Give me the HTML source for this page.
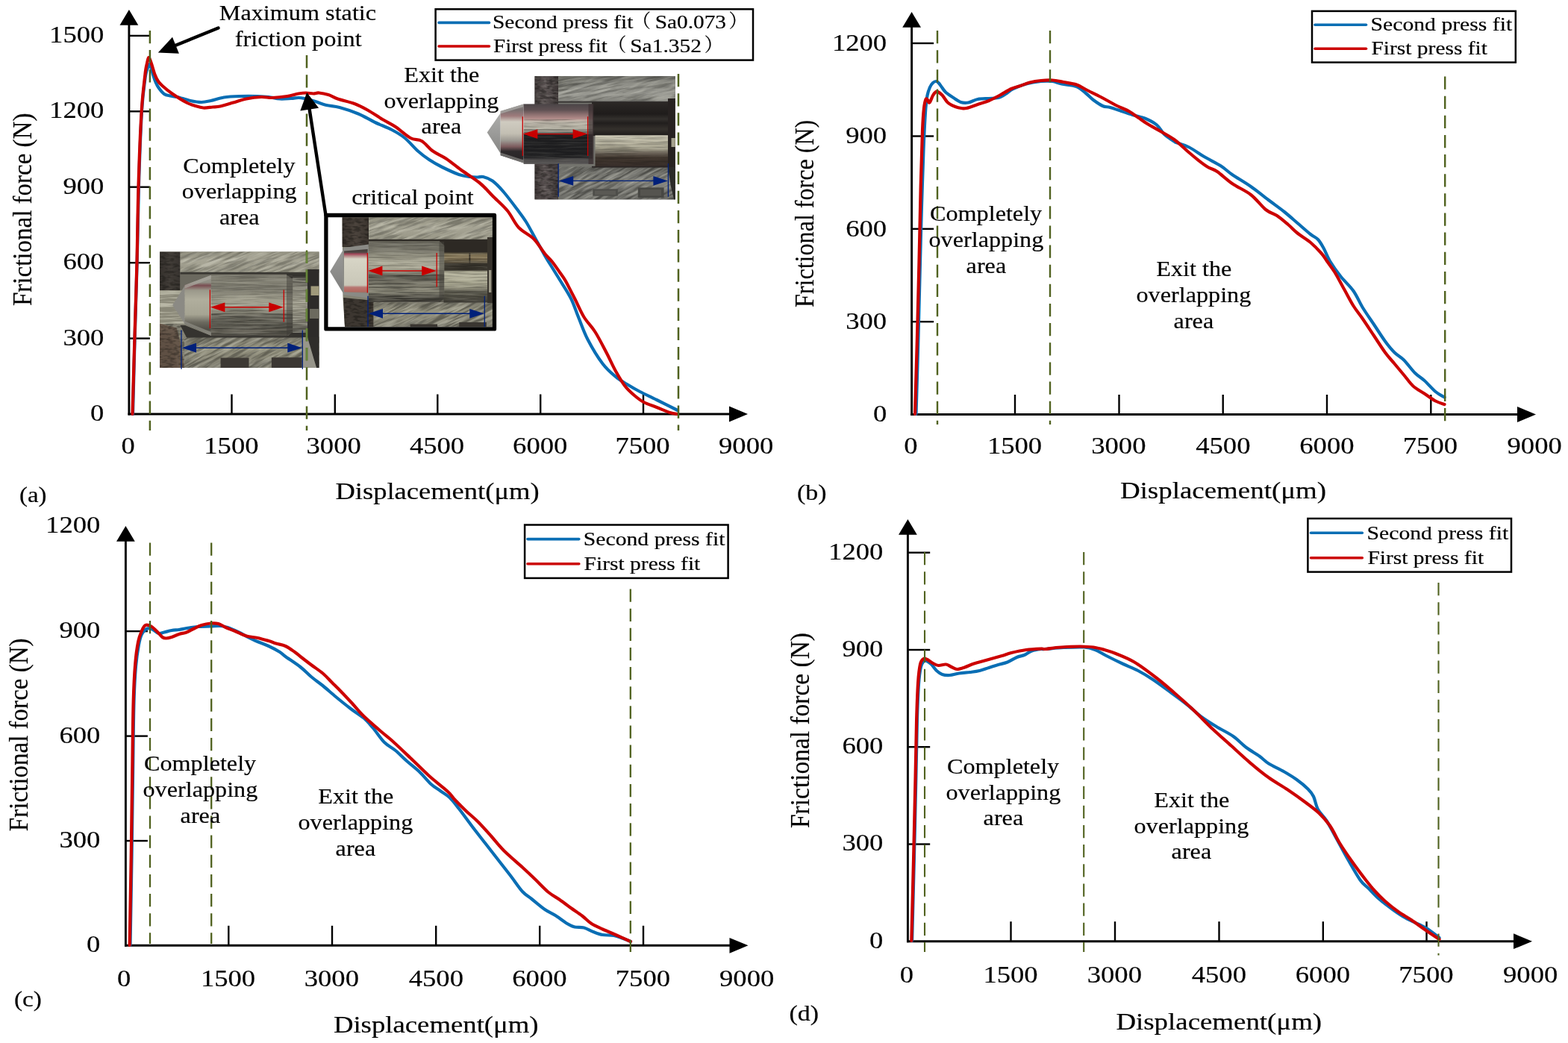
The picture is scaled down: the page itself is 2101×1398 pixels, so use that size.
<!DOCTYPE html>
<html lang="en"><head><meta charset="utf-8"><title>Frictional force vs displacement</title>
<style>html,body{margin:0;padding:0;background:#fff;}body{width:2101px;height:1398px;overflow:hidden;}svg{display:block;}text{font-family:'Liberation Serif', 'Noto Serif CJK SC', serif;fill:#000;stroke:#000;stroke-width:0.18px;font-kerning:none;white-space:pre;}</style></head><body>
<svg width="2101" height="1398" viewBox="0 0 2101 1398">
<defs><filter id="sL" x="0" y="0" width="1" height="1" color-interpolation-filters="sRGB"><feTurbulence type="fractalNoise" baseFrequency="0.02 0.45" numOctaves="3" seed="7" result="n"/><feColorMatrix in="n" type="matrix" values="0 0 0 0 1  0 0 0 0 1  0 0 0 0 0.92  4 0 0 0 -1.75" result="c"/><feComposite in="c" in2="SourceGraphic" operator="in"/></filter><filter id="sD" x="0" y="0" width="1" height="1" color-interpolation-filters="sRGB"><feTurbulence type="fractalNoise" baseFrequency="0.02 0.45" numOctaves="3" seed="11" result="n"/><feColorMatrix in="n" type="matrix" values="0 0 0 0 0.05  0 0 0 0 0.05  0 0 0 0 0.04  0 4 0 0 -1.75" result="c"/><feComposite in="c" in2="SourceGraphic" operator="in"/></filter><filter id="gL" x="0" y="0" width="1" height="1" color-interpolation-filters="sRGB"><feTurbulence type="fractalNoise" baseFrequency="0.12 0.3" numOctaves="2" seed="5" result="n"/><feColorMatrix in="n" type="matrix" values="0 0 0 0 1  0 0 0 0 1  0 0 0 0 0.94  4.5 0 0 0 -2" result="c"/><feComposite in="c" in2="SourceGraphic" operator="in"/></filter><filter id="gD" x="0" y="0" width="1" height="1" color-interpolation-filters="sRGB"><feTurbulence type="fractalNoise" baseFrequency="0.12 0.3" numOctaves="2" seed="9" result="n"/><feColorMatrix in="n" type="matrix" values="0 0 0 0 0.04  0 0 0 0 0.04  0 0 0 0 0.03  0 4.5 0 0 -2" result="c"/><feComposite in="c" in2="SourceGraphic" operator="in"/></filter><filter id="dL" x="0" y="0" width="1" height="1" color-interpolation-filters="sRGB"><feTurbulence type="fractalNoise" baseFrequency="0.03 0.3" numOctaves="3" seed="21" result="n"/><feColorMatrix in="n" type="matrix" values="0 0 0 0 1  0 0 0 0 1  0 0 0 0 0.94  4.2 0 0 0 -1.85" result="c"/><feComposite in="c" in2="SourceGraphic" operator="in"/></filter><filter id="dD" x="0" y="0" width="1" height="1" color-interpolation-filters="sRGB"><feTurbulence type="fractalNoise" baseFrequency="0.03 0.3" numOctaves="3" seed="23" result="n"/><feColorMatrix in="n" type="matrix" values="0 0 0 0 0.05  0 0 0 0 0.05  0 0 0 0 0.04  0 4.2 0 0 -1.85" result="c"/><feComposite in="c" in2="SourceGraphic" operator="in"/></filter><linearGradient id="p1strip" x1="0" y1="0" x2="1" y2="0"><stop offset="0" stop-color="#3b3434"/><stop offset="0.45" stop-color="#5a5252"/><stop offset="0.7" stop-color="#4a4343"/><stop offset="1" stop-color="#3a3333"/></linearGradient><linearGradient id="p1top" x1="0" y1="0" x2="0" y2="1"><stop offset="0" stop-color="#6f6f69"/><stop offset="0.3" stop-color="#8f8f88"/><stop offset="0.75" stop-color="#9a9a93"/><stop offset="1" stop-color="#7c7c76"/></linearGradient><linearGradient id="p1cav" x1="0" y1="0" x2="0" y2="1"><stop offset="0" stop-color="#2c2826"/><stop offset="0.35" stop-color="#1f1c1b"/><stop offset="0.5" stop-color="#33302d"/><stop offset="0.62" stop-color="#211e1d"/><stop offset="0.8" stop-color="#34302c"/><stop offset="1" stop-color="#1d1a19"/></linearGradient><linearGradient id="p1rod" x1="0" y1="0" x2="0" y2="1"><stop offset="0" stop-color="#d2cebb"/><stop offset="0.08" stop-color="#c6c2ae"/><stop offset="0.3" stop-color="#b3af9b"/><stop offset="0.42" stop-color="#9d9986"/><stop offset="0.55" stop-color="#6d655a"/><stop offset="0.7" stop-color="#41372f"/><stop offset="1" stop-color="#382e2a"/></linearGradient><linearGradient id="p1bot" x1="0" y1="0" x2="0" y2="1"><stop offset="0" stop-color="#6a6a65"/><stop offset="0.5" stop-color="#85857f"/><stop offset="1" stop-color="#6c6c67"/></linearGradient><linearGradient id="p1tap" x1="0" y1="0" x2="0" y2="1"><stop offset="0" stop-color="#8c8686"/><stop offset="0.1" stop-color="#787070"/><stop offset="0.2" stop-color="#9d7a7b"/><stop offset="0.3" stop-color="#cfcbc0"/><stop offset="0.5" stop-color="#c3bfb3"/><stop offset="0.62" stop-color="#9c9891"/><stop offset="0.72" stop-color="#7d5c5e"/><stop offset="0.8" stop-color="#2e2a2c"/><stop offset="0.92" stop-color="#2a2628"/><stop offset="1" stop-color="#6c6a68"/></linearGradient><linearGradient id="p1cyl" x1="0" y1="0" x2="0" y2="1"><stop offset="0" stop-color="#4b4547"/><stop offset="0.1" stop-color="#5f5153"/><stop offset="0.17" stop-color="#8a6e6e"/><stop offset="0.24" stop-color="#b08a88"/><stop offset="0.3" stop-color="#b9b3a7"/><stop offset="0.42" stop-color="#b1aea1"/><stop offset="0.47" stop-color="#7b7971"/><stop offset="0.52" stop-color="#1c1c1e"/><stop offset="0.88" stop-color="#1e1e20"/><stop offset="0.93" stop-color="#4a4848"/><stop offset="1" stop-color="#575555"/></linearGradient><linearGradient id="p1cone" x1="0" y1="0" x2="0" y2="1"><stop offset="0" stop-color="#adadab"/><stop offset="0.5" stop-color="#9b9b99"/><stop offset="1" stop-color="#858583"/></linearGradient><linearGradient id="p2strip" x1="0" y1="0" x2="1" y2="0"><stop offset="0" stop-color="#332f2b"/><stop offset="0.5" stop-color="#423d38"/><stop offset="1" stop-color="#37332f"/></linearGradient><linearGradient id="p2top" x1="0" y1="0" x2="0" y2="1"><stop offset="0" stop-color="#939181"/><stop offset="0.4" stop-color="#a8a696"/><stop offset="1" stop-color="#979585"/></linearGradient><linearGradient id="p2bot" x1="0" y1="0" x2="0" y2="1"><stop offset="0" stop-color="#7b796c"/><stop offset="0.4" stop-color="#95937f"/><stop offset="1" stop-color="#7f7d70"/></linearGradient><linearGradient id="p2cyl" x1="0" y1="0" x2="0" y2="1"><stop offset="0" stop-color="#77756a"/><stop offset="0.12" stop-color="#848275"/><stop offset="0.2" stop-color="#737166"/><stop offset="0.3" stop-color="#8b897b"/><stop offset="0.42" stop-color="#a19f8e"/><stop offset="0.52" stop-color="#a5a392"/><stop offset="0.6" stop-color="#8a887a"/><stop offset="0.7" stop-color="#66645a"/><stop offset="0.85" stop-color="#5b5950"/><stop offset="0.93" stop-color="#666359"/><stop offset="1" stop-color="#4a4841"/></linearGradient><linearGradient id="p2tap" x1="0" y1="0" x2="0" y2="1"><stop offset="0" stop-color="#9d9b91"/><stop offset="0.12" stop-color="#8f8d83"/><stop offset="0.17" stop-color="#7a4e52"/><stop offset="0.25" stop-color="#9a988a"/><stop offset="0.4" stop-color="#b0ae9d"/><stop offset="0.65" stop-color="#a6a493"/><stop offset="0.78" stop-color="#6b695f"/><stop offset="0.9" stop-color="#504e46"/><stop offset="1" stop-color="#8a887e"/></linearGradient><linearGradient id="p2neck" x1="0" y1="0" x2="0" y2="1"><stop offset="0" stop-color="#4a4842"/><stop offset="0.2" stop-color="#77756a"/><stop offset="0.5" stop-color="#8f8d7e"/><stop offset="0.8" stop-color="#716f64"/><stop offset="1" stop-color="#45433d"/></linearGradient><linearGradient id="p3strip" x1="0" y1="0" x2="1" y2="0"><stop offset="0" stop-color="#39322c"/><stop offset="0.5" stop-color="#4c443d"/><stop offset="1" stop-color="#3c352f"/></linearGradient><linearGradient id="p3cyl" x1="0" y1="0" x2="0" y2="1"><stop offset="0" stop-color="#66645a"/><stop offset="0.15" stop-color="#7a786c"/><stop offset="0.25" stop-color="#939181"/><stop offset="0.33" stop-color="#adab99"/><stop offset="0.45" stop-color="#a6a492"/><stop offset="0.52" stop-color="#838173"/><stop offset="0.57" stop-color="#59574e"/><stop offset="0.65" stop-color="#727064"/><stop offset="0.75" stop-color="#807e70"/><stop offset="0.83" stop-color="#8e8c7c"/><stop offset="0.9" stop-color="#5a584f"/><stop offset="1" stop-color="#3f3d37"/></linearGradient><linearGradient id="p3tap" x1="0" y1="0" x2="0" y2="1"><stop offset="0" stop-color="#3f3a37"/><stop offset="0.07" stop-color="#4e4643"/><stop offset="0.11" stop-color="#a3485a"/><stop offset="0.16" stop-color="#b78f8c"/><stop offset="0.22" stop-color="#d7d5c6"/><stop offset="0.5" stop-color="#d0cebf"/><stop offset="0.82" stop-color="#c9c7b8"/><stop offset="0.87" stop-color="#b77772"/><stop offset="0.96" stop-color="#b3685f"/><stop offset="1" stop-color="#8c7a70"/></linearGradient><linearGradient id="p3rodU" x1="0" y1="0" x2="0" y2="1"><stop offset="0" stop-color="#4f4837"/><stop offset="0.25" stop-color="#8c7c5b"/><stop offset="0.6" stop-color="#7a6c50"/><stop offset="1" stop-color="#4a4336"/></linearGradient><linearGradient id="p3rodL" x1="0" y1="0" x2="0" y2="1"><stop offset="0" stop-color="#8f8d78"/><stop offset="0.12" stop-color="#b9b7a1"/><stop offset="0.5" stop-color="#a9a791"/><stop offset="0.8" stop-color="#9a9884"/><stop offset="1" stop-color="#6b695c"/></linearGradient><linearGradient id="p3rodD" x1="0" y1="0" x2="0" y2="1"><stop offset="0" stop-color="#5d5b4f"/><stop offset="0.5" stop-color="#4c4a40"/><stop offset="1" stop-color="#3b3933"/></linearGradient><linearGradient id="cone3" x1="0" y1="0" x2="0" y2="1"><stop offset="0" stop-color="#9a9a98"/><stop offset="0.5" stop-color="#8d8d8b"/><stop offset="1" stop-color="#7d7d7b"/></linearGradient></defs>
<rect width="2101" height="1398" fill="#fff"/>
<g id="chart-a">
<line x1="172.9" y1="556.5" x2="172.9" y2="28.0" stroke="#000" stroke-width="2.9"/>
<polygon points="172.9,13.0 160.5,33.8 185.3,33.8"/>
<line x1="171.5" y1="555.0" x2="987.0" y2="555.0" stroke="#000" stroke-width="2.9"/>
<polygon points="1002.0,555.0 977.0,544.6 977.0,565.4"/>
<line x1="172.9" y1="47.9" x2="200.9" y2="47.9" stroke="#000" stroke-width="2.4"/>
<line x1="172.9" y1="149.3" x2="200.9" y2="149.3" stroke="#000" stroke-width="2.4"/>
<line x1="172.9" y1="250.7" x2="200.9" y2="250.7" stroke="#000" stroke-width="2.4"/>
<line x1="172.9" y1="352.2" x2="200.9" y2="352.2" stroke="#000" stroke-width="2.4"/>
<line x1="172.9" y1="453.6" x2="200.9" y2="453.6" stroke="#000" stroke-width="2.4"/>
<line x1="310.5" y1="555.0" x2="310.5" y2="528.5" stroke="#000" stroke-width="2.4"/>
<line x1="448.8" y1="555.0" x2="448.8" y2="528.5" stroke="#000" stroke-width="2.4"/>
<line x1="586.3" y1="555.0" x2="586.3" y2="528.5" stroke="#000" stroke-width="2.4"/>
<line x1="724.2" y1="555.0" x2="724.2" y2="528.5" stroke="#000" stroke-width="2.4"/>
<line x1="862.0" y1="555.0" x2="862.0" y2="528.5" stroke="#000" stroke-width="2.4"/>
<text x="66.1" y="56.8" font-size="32.60" textLength="73.3" lengthAdjust="spacingAndGlyphs">1500</text>
<text x="66.1" y="158.2" font-size="32.60" textLength="73.3" lengthAdjust="spacingAndGlyphs">1200</text>
<text x="84.4" y="259.6" font-size="32.60" textLength="55.0" lengthAdjust="spacingAndGlyphs">900</text>
<text x="84.4" y="361.1" font-size="32.60" textLength="55.0" lengthAdjust="spacingAndGlyphs">600</text>
<text x="84.4" y="462.5" font-size="32.60" textLength="55.0" lengthAdjust="spacingAndGlyphs">300</text>
<text x="121.1" y="563.9" font-size="32.60" textLength="18.3" lengthAdjust="spacingAndGlyphs">0</text>
<text x="162.4" y="608.0" font-size="32.60" textLength="18.3" lengthAdjust="spacingAndGlyphs">0</text>
<text x="273.3" y="608.0" font-size="32.60" textLength="73.3" lengthAdjust="spacingAndGlyphs">1500</text>
<text x="410.5" y="608.0" font-size="32.60" textLength="73.3" lengthAdjust="spacingAndGlyphs">3000</text>
<text x="548.9" y="608.0" font-size="32.60" textLength="73.3" lengthAdjust="spacingAndGlyphs">4500</text>
<text x="687.1" y="608.0" font-size="32.60" textLength="73.3" lengthAdjust="spacingAndGlyphs">6000</text>
<text x="824.4" y="608.0" font-size="32.60" textLength="73.3" lengthAdjust="spacingAndGlyphs">7500</text>
<text x="963.0" y="608.0" font-size="32.60" textLength="73.3" lengthAdjust="spacingAndGlyphs">9000</text>
<text transform="translate(42.3 281.0) rotate(-90)" x="-129.0" y="0" font-size="35.50" textLength="258.4" lengthAdjust="spacingAndGlyphs">Frictional force (N)</text>
<text x="449.4" y="668.7" font-size="31.60" textLength="273.2" lengthAdjust="spacingAndGlyphs">Displacement(μm)</text>
<text x="26.0" y="673.0" font-size="30.00" textLength="36.5" lengthAdjust="spacingAndGlyphs">(a)</text>
<path d="M178.0 555.0C178.4 537.5 179.8 484.2 180.7 450.0C181.6 415.8 182.8 383.3 183.7 350.0C184.6 316.7 184.9 283.3 185.9 250.0C186.9 216.7 188.5 174.2 189.9 150.0C191.3 125.8 193.2 114.7 194.5 105.0C195.8 95.3 196.5 95.2 197.5 92.0C198.5 88.8 199.5 86.2 200.3 86.0C201.1 85.8 201.7 88.7 202.5 91.0C203.3 93.3 204.0 96.8 205.0 100.0C206.0 103.2 207.2 107.1 208.5 110.0C209.8 112.9 210.6 114.8 212.5 117.5C214.4 120.2 217.4 124.2 220.0 126.0C222.6 127.8 225.1 127.8 228.0 128.5C230.9 129.2 233.0 128.9 237.5 130.0C242.0 131.1 249.6 133.8 255.0 135.0C260.4 136.2 265.4 137.0 270.0 137.0C274.6 137.0 277.5 136.1 282.5 135.0C287.5 133.9 293.8 131.5 300.0 130.5C306.2 129.5 312.5 129.2 320.0 129.0C327.5 128.8 338.3 128.8 345.0 129.0C351.7 129.2 355.0 129.4 360.0 130.0C365.0 130.6 370.0 132.2 375.0 132.5C380.0 132.8 385.8 132.2 390.0 132.0C394.2 131.8 397.0 131.0 400.0 131.0C403.0 131.0 405.5 131.5 408.0 132.0C410.5 132.5 412.6 133.3 415.0 134.0C417.4 134.7 418.8 134.8 422.5 136.0C426.2 137.2 432.1 139.7 437.5 141.0C442.9 142.3 447.9 142.1 455.0 144.0C462.1 145.9 472.1 149.2 480.0 152.5C487.9 155.8 495.0 160.4 502.5 164.0C510.0 167.6 518.3 170.5 525.0 174.0C531.7 177.5 536.7 180.2 542.5 185.0C548.3 189.8 554.6 197.7 560.0 202.5C565.4 207.3 569.6 210.4 575.0 214.0C580.4 217.6 585.8 220.7 592.5 224.0C599.2 227.3 608.8 231.8 615.0 234.0C621.2 236.2 625.8 236.4 630.0 237.0C634.2 237.6 637.1 237.5 640.0 237.5C642.9 237.5 644.2 236.2 647.5 237.0C650.8 237.8 655.4 239.1 660.0 242.5C664.6 245.9 669.6 251.2 675.0 257.5C680.4 263.8 687.5 273.3 692.5 280.0C697.5 286.7 700.8 290.8 705.0 297.5C709.2 304.2 713.3 312.5 717.5 320.0C721.7 327.5 726.8 336.8 730.0 342.5C733.2 348.2 733.7 348.6 737.0 354.0C740.3 359.4 745.3 367.3 750.0 375.0C754.7 382.7 760.8 391.7 765.0 400.0C769.2 408.3 771.2 415.8 775.0 425.0C778.8 434.2 782.1 444.6 787.5 455.0C792.9 465.4 801.2 479.2 807.5 487.5C813.8 495.8 819.6 500.4 825.0 505.0C830.4 509.6 834.6 511.7 840.0 515.0C845.4 518.3 850.8 521.5 857.5 525.0C864.2 528.5 871.6 531.8 880.0 536.0C888.4 540.2 903.3 547.7 908.0 550.0" fill="none" stroke="#0a6eb4" stroke-width="4.20" stroke-linecap="round" stroke-linejoin="round"/>
<path d="M177.5 555.0C178.0 537.5 179.5 484.2 180.5 450.0C181.5 415.8 182.7 383.3 183.5 350.0C184.3 316.7 184.5 283.3 185.5 250.0C186.5 216.7 188.1 175.0 189.6 150.0C191.1 125.0 193.2 110.8 194.4 100.0C195.6 89.2 196.2 88.8 197.0 85.0C197.8 81.2 198.3 77.2 199.2 77.0C200.1 76.8 201.1 80.2 202.5 84.0C203.9 87.8 205.9 95.8 207.5 100.0C209.1 104.2 210.3 106.5 212.0 109.0C213.7 111.5 214.5 112.3 217.5 115.0C220.5 117.7 224.6 121.2 230.0 125.0C235.4 128.8 244.7 134.7 250.0 137.5C255.3 140.3 258.2 140.8 262.0 142.0C265.8 143.2 268.7 144.2 272.5 144.5C276.3 144.8 281.2 143.8 285.0 143.5C288.8 143.2 290.4 143.5 295.0 142.5C299.6 141.5 306.7 139.2 312.5 137.5C318.3 135.8 323.8 133.8 330.0 132.5C336.2 131.2 344.2 130.2 350.0 130.0C355.8 129.8 359.2 131.2 365.0 131.0C370.8 130.8 379.2 129.9 385.0 129.0C390.8 128.1 395.8 126.2 400.0 125.5C404.2 124.8 406.7 124.5 410.0 124.5C413.3 124.5 417.1 125.5 420.0 125.5C422.9 125.5 424.2 124.2 427.5 124.5C430.8 124.8 435.8 125.7 440.0 127.0C444.2 128.3 446.7 130.5 452.5 132.5C458.3 134.5 468.3 136.5 475.0 139.0C481.7 141.5 486.2 144.0 492.5 147.5C498.8 151.0 506.2 156.2 512.5 160.0C518.8 163.8 523.8 165.8 530.0 170.0C536.2 174.2 544.2 181.8 550.0 185.0C555.8 188.2 560.0 186.1 565.0 189.0C570.0 191.9 574.6 198.6 580.0 202.5C585.4 206.4 591.2 208.3 597.5 212.5C603.8 216.7 610.0 222.1 617.5 227.5C625.0 232.9 635.4 239.2 642.5 245.0C649.6 250.8 653.8 256.2 660.0 262.5C666.2 268.8 674.2 275.4 680.0 282.5C685.8 289.6 689.2 298.8 695.0 305.0C700.8 311.2 709.2 314.2 715.0 320.0C720.8 325.8 725.8 334.8 730.0 340.0C734.2 345.2 736.7 346.8 740.0 351.0C743.3 355.2 747.1 360.8 750.0 365.0C752.9 369.2 754.2 370.2 757.5 376.0C760.8 381.8 765.8 391.8 770.0 400.0C774.2 408.2 777.9 417.5 782.5 425.0C787.1 432.5 792.5 437.1 797.5 445.0C802.5 452.9 807.9 463.8 812.5 472.5C817.1 481.2 820.8 490.0 825.0 497.5C829.2 505.0 833.3 512.1 837.5 517.5C841.7 522.9 845.8 526.4 850.0 530.0C854.2 533.6 857.5 536.3 862.5 539.0C867.5 541.7 874.2 543.7 880.0 546.0C885.8 548.3 892.8 551.5 897.5 553.0C902.2 554.5 906.2 554.7 908.0 555.0" fill="none" stroke="#cc0000" stroke-width="4.20" stroke-linecap="round" stroke-linejoin="round"/>
<g id="photo-overlap">
<rect x="214.1" y="337.5" width="213.4" height="155.5" fill="#858375"/>
<rect x="214.1" y="337.5" width="27.4" height="51.5" fill="url(#p2strip)"/>
<rect x="214.1" y="389.0" width="33.9" height="45.0" fill="#8a8878"/>
<polygon points="214.1,433.4 236.6,439.5 243.0,464.0 247.0,493.0 214.1,493.0" fill="#66574a"/>
<polygon points="214.1,445.0 230.0,450.0 238.0,493.0 214.1,493.0" fill="#5c4d41" opacity="0.7"/>
<rect x="241.5" y="337.5" width="186.0" height="28.0" fill="url(#p2top)"/>
<rect x="253.0" y="451.5" width="174.5" height="41.5" fill="url(#p2bot)"/>
<clipPath id="c1"><rect x="241.5" y="337.5" width="186.0" height="28.0"/></clipPath>
<g clip-path="url(#c1)"><rect x="92.7" y="188.7" width="483.6" height="325.6" fill="#000" filter="url(#dL)" opacity="0.24" transform="rotate(-20 334.5 351.5)"/></g>
<clipPath id="c2"><rect x="241.5" y="337.5" width="186.0" height="28.0"/></clipPath>
<g clip-path="url(#c2)"><rect x="92.7" y="188.7" width="483.6" height="325.6" fill="#000" filter="url(#dD)" opacity="0.26" transform="rotate(-20 334.5 351.5)"/></g>
<clipPath id="c3"><rect x="247.0" y="451.5" width="180.5" height="41.5"/></clipPath>
<g clip-path="url(#c3)"><rect x="102.6" y="307.1" width="469.3" height="330.3" fill="#000" filter="url(#dL)" opacity="0.24" transform="rotate(-28 337.2 472.2)"/></g>
<clipPath id="c4"><rect x="247.0" y="451.5" width="180.5" height="41.5"/></clipPath>
<g clip-path="url(#c4)"><rect x="102.6" y="307.1" width="469.3" height="330.3" fill="#000" filter="url(#dD)" opacity="0.34" transform="rotate(-28 337.2 472.2)"/></g>
<clipPath id="c5"><rect x="214.1" y="337.5" width="27.4" height="51.5"/></clipPath>
<g clip-path="url(#c5)"><rect x="214.1" y="337.5" width="27.4" height="51.5" fill="#000" filter="url(#gD)" opacity="0.30"/></g>
<clipPath id="c6"><rect x="214.1" y="434.0" width="32.9" height="59.0"/></clipPath>
<g clip-path="url(#c6)"><rect x="214.1" y="434.0" width="32.9" height="59.0" fill="#000" filter="url(#gD)" opacity="0.30"/></g>
<clipPath id="c7"><rect x="214.1" y="389.0" width="33.9" height="45.0"/></clipPath>
<g clip-path="url(#c7)"><rect x="214.1" y="389.0" width="33.9" height="45.0" fill="#000" filter="url(#sL)" opacity="0.40"/></g>
<rect x="295.6" y="479.6" width="37.9" height="13.4" fill="#3d3934"/>
<rect x="363.9" y="479.2" width="40.7" height="13.8" fill="#3b3733"/>
<polygon points="241.5,365.5 412.0,365.5 412.0,372.0 392.0,372.0 386.0,368.5 283.0,368.5 248.0,382.0 244.0,389.0 241.5,389.0" fill="#6b695f"/>
<rect x="241.5" y="364.8" width="170.5" height="2.8" fill="#3a3833"/>
<rect x="384.0" y="367.0" width="28.0" height="6.0" fill="#35332f"/>
<polygon points="241.5,436.0 248.0,436.0 283.0,450.0 386.0,450.0 392.0,445.0 412.0,445.0 412.0,452.5 250.0,452.5" fill="#35332f"/>
<rect x="392.0" y="371.0" width="20.0" height="75.0" fill="url(#p2neck)"/>
<clipPath id="c8"><rect x="392.0" y="371.0" width="20.0" height="75.0"/></clipPath>
<g clip-path="url(#c8)"><rect x="392.0" y="371.0" width="20.0" height="75.0" fill="#000" filter="url(#sL)" opacity="0.32"/></g>
<rect x="412.0" y="361.0" width="15.5" height="91.0" fill="#2d2b29"/>
<rect x="416.5" y="383.5" width="11.0" height="12.5" fill="#a09a7b"/>
<rect x="415.0" y="414.0" width="12.5" height="13.0" fill="#6c6a5f"/>
<polygon points="410.0,452.0 427.5,452.0 427.5,493.0 424.0,493.0" fill="#2f2d2a"/>
<polygon points="405.5,452.0 412.0,452.0 424.0,493.0 405.5,493.0" fill="#97958a"/>
<polygon points="231.2,409.1 247.6,383.0 247.6,434.0" fill="#8b8a84"/>
<polygon points="247.6,382.3 282.9,368.9 282.9,449.8 247.6,434.6" fill="url(#p2tap)"/>
<polygon points="247.6,382.3 282.9,368.9 282.9,373.5 247.6,386.5" fill="#a5a39a" opacity="0.8"/>
<polygon points="247.6,434.6 282.9,449.8 282.9,445.0 247.6,430.5" fill="#8a887f" opacity="0.8"/>
<polygon points="282.9,368.5 384.0,368.5 392.2,374.0 392.2,445.0 384.0,450.4 282.9,450.4" fill="url(#p2cyl)"/>
<clipPath id="c9"><rect x="282.9" y="368.5" width="109.3" height="46.5"/></clipPath>
<g clip-path="url(#c9)"><rect x="282.9" y="368.5" width="109.3" height="46.5" fill="#000" filter="url(#sD)" opacity="0.17"/></g>
<clipPath id="c10"><rect x="282.9" y="415.0" width="109.3" height="35.4"/></clipPath>
<g clip-path="url(#c10)"><rect x="282.9" y="415.0" width="109.3" height="35.4" fill="#000" filter="url(#sD)" opacity="0.38"/></g>
<clipPath id="c11"><rect x="282.9" y="368.5" width="109.3" height="81.9"/></clipPath>
<g clip-path="url(#c11)"><rect x="282.9" y="368.5" width="109.3" height="81.9" fill="#000" filter="url(#sL)" opacity="0.12"/></g>
<rect x="384.0" y="369.0" width="8.2" height="81.0" fill="#3c3a35" opacity="0.45"/>
<g stroke="#c80000" fill="#c80000">
<line x1="281.4" y1="388.4" x2="281.4" y2="440.1" stroke-width="1.3"/>
<line x1="380.3" y1="388.4" x2="380.3" y2="431.6" stroke-width="1.3"/>
<line x1="300.4" y1="411.8" x2="361.3" y2="411.8" stroke-width="1.4"/>
<polygon stroke="none" points="281.9,411.8 301.4,405.4 301.4,418.2"/>
<polygon stroke="none" points="379.8,411.8 360.3,405.4 360.3,418.2"/>
</g>
<g stroke="#00207a" fill="#00207a">
<line x1="243.0" y1="442.5" x2="243.0" y2="494.8" stroke-width="1.3"/>
<line x1="405.3" y1="442.5" x2="405.3" y2="494.8" stroke-width="1.3"/>
<line x1="262.0" y1="466.2" x2="386.3" y2="466.2" stroke-width="1.4"/>
<polygon stroke="none" points="243.5,466.2 263.0,459.8 263.0,472.6"/>
<polygon stroke="none" points="404.8,466.2 385.3,459.8 385.3,472.6"/>
</g>
</g>
<line x1="200.9" y1="40.9" x2="200.9" y2="577.0" stroke="#50621f" stroke-width="2.5" stroke-dasharray="17.25 8.89" stroke-dashoffset="0.0"/>
<line x1="909.0" y1="99.0" x2="909.0" y2="577.0" stroke="#50621f" stroke-width="2.5" stroke-dasharray="17.25 8.89" stroke-dashoffset="0.0"/>
<line x1="411.0" y1="74.0" x2="411.0" y2="577.0" stroke="#50621f" stroke-width="2.5" stroke-dasharray="17.25 8.89" stroke-dashoffset="0.0"/>
<clipPath id="cp2"><rect x="214.1" y="337.5" width="213.4" height="155.5"/></clipPath>
<g clip-path="url(#cp2)">
<line x1="411.0" y1="74.0" x2="411.0" y2="577.0" stroke="#66853a" stroke-width="2.5" stroke-dasharray="17.25 8.89" stroke-dashoffset="0.0"/>
</g>
<g id="photo-exit">
<rect x="716.5" y="102.1" width="188.3" height="165.2" fill="#74746e"/>
<rect x="716.5" y="102.1" width="31.5" height="165.2" fill="url(#p1strip)"/>
<rect x="748.0" y="102.1" width="156.8" height="34.9" fill="url(#p1top)"/>
<polygon points="748.0,102.1 800.0,102.1 760.0,120.0 748.0,122.0" fill="#6a6a64" opacity="0.6"/>
<rect x="748.0" y="223.5" width="156.8" height="43.8" fill="url(#p1bot)"/>
<clipPath id="c12"><rect x="748.0" y="102.1" width="156.8" height="34.9"/></clipPath>
<g clip-path="url(#c12)"><rect x="622.6" y="-23.3" width="407.7" height="285.8" fill="#000" filter="url(#dL)" opacity="0.18" transform="rotate(-12 826.4 119.5)"/></g>
<clipPath id="c13"><rect x="748.0" y="102.1" width="156.8" height="34.9"/></clipPath>
<g clip-path="url(#c13)"><rect x="622.6" y="-23.3" width="407.7" height="285.8" fill="#000" filter="url(#dD)" opacity="0.26" transform="rotate(-12 826.4 119.5)"/></g>
<clipPath id="c14"><rect x="748.0" y="223.5" width="156.8" height="43.8"/></clipPath>
<g clip-path="url(#c14)"><rect x="622.6" y="98.1" width="407.7" height="294.7" fill="#000" filter="url(#dL)" opacity="0.24" transform="rotate(-28 826.4 245.4)"/></g>
<clipPath id="c15"><rect x="748.0" y="223.5" width="156.8" height="43.8"/></clipPath>
<g clip-path="url(#c15)"><rect x="622.6" y="98.1" width="407.7" height="294.7" fill="#000" filter="url(#dD)" opacity="0.38" transform="rotate(-28 826.4 245.4)"/></g>
<clipPath id="c16"><rect x="716.5" y="102.1" width="31.5" height="165.2"/></clipPath>
<g clip-path="url(#c16)"><rect x="716.5" y="102.1" width="31.5" height="165.2" fill="#000" filter="url(#gD)" opacity="0.34"/></g>
<clipPath id="c17"><rect x="716.5" y="102.1" width="31.5" height="165.2"/></clipPath>
<g clip-path="url(#c17)"><rect x="716.5" y="102.1" width="31.5" height="165.2" fill="#000" filter="url(#gL)" opacity="0.10"/></g>
<rect x="794.3" y="253.4" width="33.5" height="9.2" fill="#4d4d49"/>
<rect x="797.0" y="255.5" width="28.0" height="5.5" fill="#5a5954"/>
<rect x="854.8" y="251.4" width="34.8" height="13.6" fill="#474743"/>
<rect x="858.0" y="254.0" width="28.0" height="8.5" fill="#55544f"/>
<rect x="748.0" y="135.8" width="156.8" height="1.8" fill="#33302f"/>
<rect x="793.0" y="137.0" width="104.0" height="45.0" fill="url(#p1cav)"/>
<rect x="797.5" y="181.3" width="97.5" height="42.7" fill="url(#p1rod)"/>
<clipPath id="c18"><rect x="797.5" y="181.3" width="97.5" height="42.7"/></clipPath>
<g clip-path="url(#c18)"><rect x="797.5" y="181.3" width="97.5" height="42.7" fill="#000" filter="url(#sD)" opacity="0.21"/></g>
<clipPath id="c19"><rect x="797.5" y="181.3" width="97.5" height="23.7"/></clipPath>
<g clip-path="url(#c19)"><rect x="797.5" y="181.3" width="97.5" height="23.7" fill="#000" filter="url(#sL)" opacity="0.12"/></g>
<rect x="895.0" y="132.0" width="9.8" height="92.5" fill="#272221"/>
<rect x="899.5" y="185.0" width="5.3" height="12.0" fill="#a5a18d"/>
<polygon points="895.0,224.0 904.8,224.0 904.8,267.3 903.0,267.3 899.0,250.0" fill="#2b2a28"/>
<rect x="793.0" y="222.8" width="104.0" height="1.8" fill="#2b2625"/>
<polygon points="652.7,177.4 670.7,151.6 670.7,205.7" fill="url(#p1cone)"/>
<polygon points="670.7,149.0 701.6,139.4 701.6,218.6 670.7,208.3" fill="url(#p1tap)"/>
<polygon points="670.7,149.0 701.6,139.4 701.6,143.0 670.7,152.5" fill="#a9a9a5" opacity="0.75"/>
<polygon points="670.7,208.3 701.6,218.6 701.6,214.5 670.7,204.5" fill="#7b7977" opacity="0.8"/>
<rect x="701.6" y="139.4" width="92.7" height="80.5" fill="url(#p1cyl)"/>
<clipPath id="c20"><rect x="701.6" y="160.0" width="92.7" height="20.0"/></clipPath>
<g clip-path="url(#c20)"><rect x="701.6" y="160.0" width="92.7" height="20.0" fill="#000" filter="url(#sD)" opacity="0.26"/></g>
<clipPath id="c21"><rect x="701.6" y="160.0" width="92.7" height="20.0"/></clipPath>
<g clip-path="url(#c21)"><rect x="701.6" y="160.0" width="92.7" height="20.0" fill="#000" filter="url(#sL)" opacity="0.16"/></g>
<clipPath id="c22"><rect x="701.6" y="182.0" width="92.7" height="37.9"/></clipPath>
<g clip-path="url(#c22)"><rect x="701.6" y="182.0" width="92.7" height="37.9" fill="#000" filter="url(#sL)" opacity="0.08"/></g>
<rect x="788.5" y="139.4" width="7.0" height="80.5" fill="#3a2f31" opacity="0.7"/>
<g stroke="#c80000" fill="#c80000">
<line x1="700.3" y1="156.2" x2="700.3" y2="209.0" stroke-width="1.3"/>
<line x1="787.6" y1="156.2" x2="787.6" y2="209.0" stroke-width="1.3"/>
<line x1="719.3" y1="179.6" x2="768.6" y2="179.6" stroke-width="1.4"/>
<polygon stroke="none" points="700.8,179.6 720.3,173.2 720.3,186.0"/>
<polygon stroke="none" points="787.1,179.6 767.6,173.2 767.6,186.0"/>
</g>
<g stroke="#00207a" fill="#00207a">
<line x1="748.2" y1="219.2" x2="748.2" y2="263.7" stroke-width="1.3"/>
<line x1="895.4" y1="219.2" x2="895.4" y2="263.7" stroke-width="1.3"/>
<line x1="767.2" y1="242.4" x2="876.4" y2="242.4" stroke-width="1.4"/>
<polygon stroke="none" points="748.7,242.4 768.2,236.0 768.2,248.8"/>
<polygon stroke="none" points="894.9,242.4 875.4,236.0 875.4,248.8"/>
</g>
</g>
<g id="photo-critical">
<rect x="436.9" y="288.5" width="225.6" height="152.4" fill="#fff"/>
<polygon points="458.6,291.2 660.0,291.2 660.0,438.1 462.0,438.1 459.5,400.0" fill="#848273"/>
<polygon points="458.6,291.2 494.0,291.2 494.0,331.0 458.6,331.0" fill="url(#p3strip)"/>
<polygon points="460.0,399.0 500.6,403.0 500.6,438.1 462.0,438.1" fill="#3d3731"/>
<rect x="494.0" y="291.2" width="166.0" height="30.8" fill="url(#p2top)"/>
<rect x="500.6" y="405.3" width="159.4" height="32.8" fill="url(#p2bot)"/>
<clipPath id="c23"><rect x="494.0" y="291.2" width="166.0" height="30.8"/></clipPath>
<g clip-path="url(#c23)"><rect x="361.2" y="158.4" width="431.6" height="296.4" fill="#000" filter="url(#dL)" opacity="0.24" transform="rotate(-18 577.0 306.6)"/></g>
<clipPath id="c24"><rect x="494.0" y="291.2" width="166.0" height="30.8"/></clipPath>
<g clip-path="url(#c24)"><rect x="361.2" y="158.4" width="431.6" height="296.4" fill="#000" filter="url(#dD)" opacity="0.26" transform="rotate(-18 577.0 306.6)"/></g>
<clipPath id="c25"><rect x="500.6" y="405.3" width="159.4" height="32.8"/></clipPath>
<g clip-path="url(#c25)"><rect x="373.1" y="277.8" width="414.4" height="287.8" fill="#000" filter="url(#dL)" opacity="0.24" transform="rotate(-25 580.3 421.7)"/></g>
<clipPath id="c26"><rect x="500.6" y="405.3" width="159.4" height="32.8"/></clipPath>
<g clip-path="url(#c26)"><rect x="373.1" y="277.8" width="414.4" height="287.8" fill="#000" filter="url(#dD)" opacity="0.34" transform="rotate(-25 580.3 421.7)"/></g>
<clipPath id="c27"><rect x="458.6" y="291.2" width="35.4" height="39.8"/></clipPath>
<g clip-path="url(#c27)"><rect x="458.6" y="291.2" width="35.4" height="39.8" fill="#000" filter="url(#gD)" opacity="0.34"/></g>
<clipPath id="c28"><polygon points="460.0,399.0 500.6,403.0 500.6,438.1 462.0,438.1"/></clipPath>
<g clip-path="url(#c28)"><rect x="461.0" y="399.0" width="39.6" height="39.1" fill="#000" filter="url(#gD)" opacity="0.34"/></g>
<rect x="549.6" y="434.5" width="36.4" height="3.6" fill="#3a3631"/>
<rect x="615.3" y="432.0" width="36.5" height="6.1" fill="#3a3631"/>
<rect x="494.0" y="320.8" width="166.0" height="2.6" fill="#2e2b26"/>
<rect x="589.0" y="322.0" width="71.0" height="17.0" fill="#2d2924"/>
<rect x="594.5" y="338.4" width="59.5" height="15.1" fill="url(#p3rodU)"/>
<rect x="628.5" y="339.0" width="1.8" height="14.0" fill="#352f25"/>
<rect x="594.5" y="353.0" width="59.5" height="10.0" fill="#39352d"/>
<rect x="594.5" y="362.7" width="59.5" height="27.3" fill="url(#p3rodL)"/>
<rect x="594.5" y="389.5" width="59.5" height="16.0" fill="url(#p3rodD)"/>
<clipPath id="c29"><rect x="594.5" y="338.4" width="59.5" height="67.1"/></clipPath>
<g clip-path="url(#c29)"><rect x="594.5" y="338.4" width="59.5" height="67.1" fill="#000" filter="url(#sL)" opacity="0.14"/></g>
<clipPath id="c30"><rect x="594.5" y="338.4" width="59.5" height="67.1"/></clipPath>
<g clip-path="url(#c30)"><rect x="594.5" y="338.4" width="59.5" height="67.1" fill="#000" filter="url(#sD)" opacity="0.21"/></g>
<rect x="653.0" y="318.0" width="7.0" height="88.0" fill="#37332c"/>
<rect x="655.0" y="362.0" width="3.3" height="30.0" fill="#bdbba6" opacity="0.75"/>
<polygon points="442.2,363.9 459.8,334.8 459.8,393.0" fill="url(#cone3)"/>
<polygon points="459.8,332.3 493.9,327.5 493.9,399.5 459.8,395.2" fill="#8a8a85"/>
<polygon points="461.0,336.5 492.6,334.0 492.6,392.8 461.0,391.5" fill="url(#p3tap)"/>
<polygon points="493.9,323.8 589.5,323.8 595.2,329.0 595.2,400.0 589.5,405.0 493.9,405.0" fill="url(#p3cyl)"/>
<clipPath id="c31"><rect x="493.9" y="323.8" width="101.3" height="44.2"/></clipPath>
<g clip-path="url(#c31)"><rect x="493.9" y="323.8" width="101.3" height="44.2" fill="#000" filter="url(#sD)" opacity="0.17"/></g>
<clipPath id="c32"><rect x="493.9" y="368.0" width="101.3" height="37.0"/></clipPath>
<g clip-path="url(#c32)"><rect x="493.9" y="368.0" width="101.3" height="37.0" fill="#000" filter="url(#sD)" opacity="0.38"/></g>
<clipPath id="c33"><rect x="493.9" y="323.8" width="101.3" height="81.2"/></clipPath>
<g clip-path="url(#c33)"><rect x="493.9" y="323.8" width="101.3" height="81.2" fill="#000" filter="url(#sL)" opacity="0.12"/></g>
<rect x="588.5" y="324.0" width="6.7" height="81.0" fill="#3d3b35" opacity="0.5"/>
<g stroke="#c80000" fill="#c80000">
<line x1="492.4" y1="339.0" x2="492.4" y2="392.5" stroke-width="1.3"/>
<line x1="585.2" y1="339.0" x2="585.2" y2="384.6" stroke-width="1.3"/>
<line x1="511.4" y1="363.0" x2="566.2" y2="363.0" stroke-width="1.4"/>
<polygon stroke="none" points="492.9,363.0 512.4,356.6 512.4,369.4"/>
<polygon stroke="none" points="584.7,363.0 565.2,356.6 565.2,369.4"/>
</g>
<g stroke="#00207a" fill="#00207a">
<line x1="493.0" y1="396.8" x2="493.0" y2="438.1" stroke-width="1.3"/>
<line x1="649.3" y1="396.8" x2="649.3" y2="438.1" stroke-width="1.3"/>
<line x1="512.0" y1="420.3" x2="630.3" y2="420.3" stroke-width="1.4"/>
<polygon stroke="none" points="493.5,420.3 513.0,413.9 513.0,426.7"/>
<polygon stroke="none" points="648.8,420.3 629.3,413.9 629.3,426.7"/>
</g>
<rect x="436.9" y="288.5" width="225.6" height="152.4" fill="none" stroke="#000" stroke-width="5.3" stroke-linejoin="round"/>
</g>
<text x="293.8" y="27.1" font-size="30.00" textLength="210.3" lengthAdjust="spacingAndGlyphs">Maximum static</text>
<text x="314.7" y="61.7" font-size="30.00" textLength="170.0" lengthAdjust="spacingAndGlyphs">friction point</text>
<text x="245.3" y="231.6" font-size="30.00" textLength="150.2" lengthAdjust="spacingAndGlyphs">Completely</text>
<text x="243.8" y="266.1" font-size="30.00" textLength="153.8" lengthAdjust="spacingAndGlyphs">overlapping</text>
<text x="293.9" y="300.8" font-size="30.00" textLength="53.6" lengthAdjust="spacingAndGlyphs">area</text>
<text x="541.3" y="109.9" font-size="30.00" textLength="101.0" lengthAdjust="spacingAndGlyphs">Exit the</text>
<text x="514.5" y="145.2" font-size="30.00" textLength="153.8" lengthAdjust="spacingAndGlyphs">overlapping</text>
<text x="564.6" y="179.4" font-size="30.00" textLength="53.6" lengthAdjust="spacingAndGlyphs">area</text>
<text x="471.2" y="274.2" font-size="30.00" textLength="163.6" lengthAdjust="spacingAndGlyphs">critical point</text>
<line x1="292.5" y1="37.5" x2="233.6" y2="61.5" stroke="#000" stroke-width="4.4" stroke-linecap="round"/>
<polygon points="211.8,70.4 231.0,49.8 239.9,71.7"/>
<line x1="436.5" y1="288.5" x2="414.4" y2="144.8" stroke="#000" stroke-width="4.4" stroke-linecap="round"/>
<polygon points="411.2,124.0 427.1,144.8 402.3,148.6"/>
<rect x="583.6" y="12.3" width="425.4" height="68.3" fill="#fff" stroke="#000" stroke-width="2.5"/>
<line x1="588.0" y1="30.4" x2="655.5" y2="30.4" stroke="#0a6eb4" stroke-width="3.6" stroke-linecap="round"/>
<line x1="588.0" y1="62.0" x2="655.5" y2="62.0" stroke="#cc0000" stroke-width="3.6" stroke-linecap="round"/>
<text x="659.9" y="38.1" font-size="25.60" textLength="188.5" lengthAdjust="spacingAndGlyphs">Second press fit</text>
<text x="847.0" y="36.9" font-size="25.0">（</text>
<text x="877.7" y="38.1" font-size="25.60" textLength="95.3" lengthAdjust="spacingAndGlyphs">Sa0.073</text>
<text x="976.5" y="36.9" font-size="25.0">）</text>
<text x="661.1" y="70.2" font-size="25.60" textLength="152.8" lengthAdjust="spacingAndGlyphs">First press fit</text>
<text x="814.2" y="69.0" font-size="25.0">（</text>
<text x="844.2" y="70.2" font-size="25.60" textLength="95.8" lengthAdjust="spacingAndGlyphs">Sa1.352</text>
<text x="943.8" y="69.0" font-size="25.0">）</text>
</g>
<g id="chart-b">
<line x1="1221.6" y1="557.0" x2="1221.6" y2="31.0" stroke="#000" stroke-width="2.9"/>
<polygon points="1221.6,16.0 1209.2,36.8 1234.0,36.8"/>
<line x1="1220.1" y1="555.5" x2="2043.0" y2="555.5" stroke="#000" stroke-width="2.9"/>
<polygon points="2058.0,555.5 2033.0,545.1 2033.0,565.9"/>
<line x1="1221.6" y1="58.0" x2="1251.1" y2="58.0" stroke="#000" stroke-width="2.4"/>
<line x1="1221.6" y1="182.5" x2="1251.1" y2="182.5" stroke="#000" stroke-width="2.4"/>
<line x1="1221.6" y1="306.8" x2="1251.1" y2="306.8" stroke="#000" stroke-width="2.4"/>
<line x1="1221.6" y1="431.2" x2="1251.1" y2="431.2" stroke="#000" stroke-width="2.4"/>
<line x1="1360.0" y1="555.5" x2="1360.0" y2="529.0" stroke="#000" stroke-width="2.4"/>
<line x1="1499.5" y1="555.5" x2="1499.5" y2="529.0" stroke="#000" stroke-width="2.4"/>
<line x1="1638.7" y1="555.5" x2="1638.7" y2="529.0" stroke="#000" stroke-width="2.4"/>
<line x1="1778.0" y1="555.5" x2="1778.0" y2="529.0" stroke="#000" stroke-width="2.4"/>
<line x1="1917.3" y1="555.5" x2="1917.3" y2="529.0" stroke="#000" stroke-width="2.4"/>
<text x="1114.9" y="67.8" font-size="32.60" textLength="73.3" lengthAdjust="spacingAndGlyphs">1200</text>
<text x="1133.2" y="192.3" font-size="32.60" textLength="55.0" lengthAdjust="spacingAndGlyphs">900</text>
<text x="1133.2" y="316.6" font-size="32.60" textLength="55.0" lengthAdjust="spacingAndGlyphs">600</text>
<text x="1133.2" y="441.0" font-size="32.60" textLength="55.0" lengthAdjust="spacingAndGlyphs">300</text>
<text x="1169.9" y="565.3" font-size="32.60" textLength="18.3" lengthAdjust="spacingAndGlyphs">0</text>
<text x="1211.3" y="608.0" font-size="32.60" textLength="18.3" lengthAdjust="spacingAndGlyphs">0</text>
<text x="1322.9" y="608.0" font-size="32.60" textLength="73.3" lengthAdjust="spacingAndGlyphs">1500</text>
<text x="1462.2" y="608.0" font-size="32.60" textLength="73.3" lengthAdjust="spacingAndGlyphs">3000</text>
<text x="1602.2" y="608.0" font-size="32.60" textLength="73.3" lengthAdjust="spacingAndGlyphs">4500</text>
<text x="1741.3" y="608.0" font-size="32.60" textLength="73.3" lengthAdjust="spacingAndGlyphs">6000</text>
<text x="1879.8" y="608.0" font-size="32.60" textLength="73.3" lengthAdjust="spacingAndGlyphs">7500</text>
<text x="2019.5" y="608.0" font-size="32.60" textLength="73.3" lengthAdjust="spacingAndGlyphs">9000</text>
<text transform="translate(1089.5 286.6) rotate(-90)" x="-125.4" y="0" font-size="35.50" textLength="251.3" lengthAdjust="spacingAndGlyphs">Frictional force (N)</text>
<text x="1500.9" y="668.3" font-size="31.60" textLength="276.2" lengthAdjust="spacingAndGlyphs">Displacement(μm)</text>
<text x="1068.0" y="669.6" font-size="30.00" textLength="39.5" lengthAdjust="spacingAndGlyphs">(b)</text>
<path d="M1227.5 555.0C1228.0 537.5 1229.6 484.2 1230.5 450.0C1231.4 415.8 1232.2 379.2 1233.0 350.0C1233.8 320.8 1234.2 300.0 1235.0 275.0C1235.8 250.0 1236.7 220.8 1237.5 200.0C1238.3 179.2 1239.2 162.0 1240.0 150.0C1240.8 138.0 1241.5 133.5 1242.5 128.0C1243.5 122.5 1244.8 119.8 1246.0 117.0C1247.2 114.2 1248.6 112.3 1250.0 111.0C1251.4 109.7 1253.2 108.9 1254.5 109.0C1255.8 109.1 1256.8 110.2 1258.0 111.5C1259.2 112.8 1260.4 114.9 1262.0 117.0C1263.6 119.1 1264.9 121.7 1267.5 124.0C1270.1 126.3 1274.2 128.8 1277.5 131.0C1280.8 133.2 1284.2 135.9 1287.5 137.0C1290.8 138.1 1293.8 138.2 1297.5 137.5C1301.2 136.8 1305.4 133.9 1310.0 133.0C1314.6 132.1 1320.4 132.3 1325.0 132.0C1329.6 131.7 1333.8 132.0 1337.5 131.0C1341.2 130.0 1344.2 128.0 1347.5 126.0C1350.8 124.0 1352.9 121.2 1357.5 119.0C1362.1 116.8 1368.8 114.2 1375.0 112.5C1381.2 110.8 1389.2 109.6 1395.0 109.0C1400.8 108.4 1405.4 108.4 1410.0 109.0C1414.6 109.6 1417.1 111.3 1422.5 112.5C1427.9 113.7 1437.1 113.9 1442.5 116.0C1447.9 118.1 1451.2 122.0 1455.0 125.0C1458.8 128.0 1461.2 131.2 1465.0 134.0C1468.8 136.8 1473.8 140.3 1477.5 142.0C1481.2 143.7 1483.3 142.8 1487.5 144.0C1491.7 145.2 1497.5 147.3 1502.5 149.0C1507.5 150.7 1512.1 152.3 1517.5 154.0C1522.9 155.7 1529.6 156.8 1535.0 159.0C1540.4 161.2 1545.8 164.0 1550.0 167.5C1554.2 171.0 1556.0 176.2 1560.0 180.0C1564.0 183.8 1571.3 188.2 1574.0 190.0C1576.7 191.8 1572.8 189.8 1576.0 191.0C1579.2 192.2 1587.2 194.3 1593.5 197.5C1599.8 200.7 1606.4 205.8 1613.5 210.0C1620.6 214.2 1629.8 218.5 1636.0 222.5C1642.2 226.5 1644.3 229.4 1651.0 234.0C1657.7 238.6 1667.7 244.2 1676.0 250.0C1684.3 255.8 1693.5 263.3 1701.0 269.0C1708.5 274.7 1714.8 279.0 1721.0 284.0C1727.2 289.0 1732.7 294.0 1738.5 299.0C1744.3 304.0 1751.4 310.3 1756.0 314.0C1760.6 317.7 1763.1 317.9 1766.0 321.0C1768.9 324.1 1770.8 327.7 1773.5 332.5C1776.2 337.3 1778.2 343.8 1782.0 350.0C1785.8 356.2 1790.8 363.3 1796.0 370.0C1801.2 376.7 1808.5 382.9 1813.5 390.0C1818.5 397.1 1821.4 405.0 1826.0 412.5C1830.6 420.0 1836.0 427.5 1841.0 435.0C1846.0 442.5 1851.4 451.2 1856.0 457.5C1860.6 463.8 1864.3 468.3 1868.5 472.5C1872.7 476.7 1876.4 477.9 1881.0 482.5C1885.6 487.1 1891.4 495.4 1896.0 500.0C1900.6 504.6 1903.9 505.8 1908.5 510.0C1913.1 514.2 1919.0 521.2 1923.5 525.0C1928.0 528.8 1933.5 531.2 1935.5 532.5" fill="none" stroke="#0a6eb4" stroke-width="4.20" stroke-linecap="round" stroke-linejoin="round"/>
<path d="M1226.0 555.0C1226.5 537.5 1228.1 484.2 1229.0 450.0C1229.9 415.8 1230.7 383.3 1231.5 350.0C1232.3 316.7 1233.0 279.2 1233.7 250.0C1234.5 220.8 1235.3 192.5 1236.0 175.0C1236.7 157.5 1237.2 152.0 1238.0 145.0C1238.8 138.0 1239.7 134.8 1240.5 133.0C1241.3 131.2 1242.2 133.2 1243.0 134.0C1243.8 134.8 1244.3 138.5 1245.5 137.5C1246.7 136.5 1248.7 130.3 1250.0 128.0C1251.3 125.7 1252.4 124.3 1253.5 123.5C1254.6 122.7 1255.0 122.3 1256.5 123.0C1258.0 123.7 1260.2 125.1 1262.5 127.5C1264.8 129.9 1267.1 134.9 1270.0 137.5C1272.9 140.1 1277.0 141.8 1280.0 143.0C1283.0 144.2 1285.5 144.7 1288.0 145.0C1290.5 145.3 1291.3 145.8 1295.0 145.0C1298.7 144.2 1305.0 141.7 1310.0 140.0C1315.0 138.3 1320.0 137.1 1325.0 135.0C1330.0 132.9 1335.0 130.2 1340.0 127.5C1345.0 124.8 1350.4 121.1 1355.0 119.0C1359.6 116.9 1363.3 116.4 1367.5 115.0C1371.7 113.6 1375.4 111.7 1380.0 110.5C1384.6 109.3 1390.0 108.5 1395.0 108.0C1400.0 107.5 1405.0 107.2 1410.0 107.5C1415.0 107.8 1419.6 109.0 1425.0 110.0C1430.4 111.0 1437.5 111.8 1442.5 113.5C1447.5 115.2 1449.6 117.2 1455.0 120.0C1460.4 122.8 1468.3 126.5 1475.0 130.0C1481.7 133.5 1488.8 137.8 1495.0 141.0C1501.2 144.2 1507.5 146.2 1512.5 149.0C1517.5 151.8 1520.8 154.7 1525.0 157.5C1529.2 160.3 1532.5 162.9 1537.5 166.0C1542.5 169.1 1548.9 172.4 1555.0 176.0C1561.1 179.6 1568.0 183.1 1574.0 187.5C1580.0 191.9 1585.7 197.9 1591.0 202.5C1596.3 207.1 1601.4 211.4 1606.0 215.0C1610.6 218.6 1614.3 221.5 1618.5 224.0C1622.7 226.5 1625.6 226.3 1631.0 230.0C1636.4 233.7 1643.5 240.8 1651.0 246.0C1658.5 251.2 1668.5 255.2 1676.0 261.0C1683.5 266.8 1690.2 276.3 1696.0 281.0C1701.8 285.7 1706.0 285.7 1711.0 289.0C1716.0 292.3 1721.4 297.1 1726.0 301.0C1730.6 304.9 1733.5 308.5 1738.5 312.5C1743.5 316.5 1750.6 320.4 1756.0 325.0C1761.4 329.6 1767.3 335.8 1771.0 340.0C1774.7 344.2 1775.1 345.8 1778.0 350.0C1780.9 354.2 1784.7 358.8 1788.5 365.0C1792.3 371.2 1796.8 380.0 1801.0 387.5C1805.2 395.0 1809.3 403.3 1813.5 410.0C1817.7 416.7 1821.4 420.8 1826.0 427.5C1830.6 434.2 1836.0 442.5 1841.0 450.0C1846.0 457.5 1851.4 466.2 1856.0 472.5C1860.6 478.8 1864.3 482.5 1868.5 487.5C1872.7 492.5 1876.8 497.5 1881.0 502.5C1885.2 507.5 1888.9 513.3 1893.5 517.5C1898.1 521.7 1903.5 524.2 1908.5 527.5C1913.5 530.8 1919.0 535.1 1923.5 537.5C1928.0 539.9 1933.5 541.2 1935.5 542.0" fill="none" stroke="#cc0000" stroke-width="4.20" stroke-linecap="round" stroke-linejoin="round"/>
<line x1="1256.0" y1="41.0" x2="1256.0" y2="569.0" stroke="#50621f" stroke-width="2.4" stroke-dasharray="17.25 8.89" stroke-dashoffset="0.0"/>
<line x1="1407.0" y1="41.0" x2="1407.0" y2="569.0" stroke="#50621f" stroke-width="2.4" stroke-dasharray="17.25 8.89" stroke-dashoffset="0.0"/>
<line x1="1936.2" y1="102.5" x2="1936.2" y2="569.0" stroke="#50621f" stroke-width="2.4" stroke-dasharray="17.25 8.89" stroke-dashoffset="0.0"/>
<text x="1246.0" y="296.4" font-size="30.00" textLength="150.2" lengthAdjust="spacingAndGlyphs">Completely</text>
<text x="1244.5" y="331.4" font-size="30.00" textLength="153.8" lengthAdjust="spacingAndGlyphs">overlapping</text>
<text x="1294.6" y="366.4" font-size="30.00" textLength="53.6" lengthAdjust="spacingAndGlyphs">area</text>
<text x="1549.3" y="370.4" font-size="30.00" textLength="101.0" lengthAdjust="spacingAndGlyphs">Exit the</text>
<text x="1522.5" y="405.4" font-size="30.00" textLength="153.8" lengthAdjust="spacingAndGlyphs">overlapping</text>
<text x="1572.6" y="440.4" font-size="30.00" textLength="53.6" lengthAdjust="spacingAndGlyphs">area</text>
<rect x="1758.0" y="14.9" width="272.8" height="68.7" fill="#fff" stroke="#000" stroke-width="2.5"/>
<line x1="1762.0" y1="33.2" x2="1830.5" y2="33.2" stroke="#0a6eb4" stroke-width="3.6" stroke-linecap="round"/>
<line x1="1762.0" y1="65.2" x2="1830.5" y2="65.2" stroke="#cc0000" stroke-width="3.6" stroke-linecap="round"/>
<text x="1836.6" y="41.2" font-size="25.60" textLength="189.6" lengthAdjust="spacingAndGlyphs">Second press fit</text>
<text x="1837.4" y="73.4" font-size="25.60" textLength="155.6" lengthAdjust="spacingAndGlyphs">First press fit</text>
</g>
<g id="chart-c">
<line x1="168.4" y1="1268.8" x2="168.4" y2="720.0" stroke="#000" stroke-width="2.9"/>
<polygon points="168.4,705.0 156.0,725.8 180.8,725.8"/>
<line x1="167.0" y1="1267.3" x2="987.5" y2="1267.3" stroke="#000" stroke-width="2.9"/>
<polygon points="1002.5,1267.3 977.5,1256.9 977.5,1277.7"/>
<line x1="168.4" y1="846.1" x2="197.9" y2="846.1" stroke="#000" stroke-width="2.4"/>
<line x1="168.4" y1="986.6" x2="197.9" y2="986.6" stroke="#000" stroke-width="2.4"/>
<line x1="168.4" y1="1127.0" x2="197.9" y2="1127.0" stroke="#000" stroke-width="2.4"/>
<line x1="306.3" y1="1267.3" x2="306.3" y2="1240.8" stroke="#000" stroke-width="2.4"/>
<line x1="445.0" y1="1267.3" x2="445.0" y2="1240.8" stroke="#000" stroke-width="2.4"/>
<line x1="584.2" y1="1267.3" x2="584.2" y2="1240.8" stroke="#000" stroke-width="2.4"/>
<line x1="723.2" y1="1267.3" x2="723.2" y2="1240.8" stroke="#000" stroke-width="2.4"/>
<line x1="862.0" y1="1267.3" x2="862.0" y2="1240.8" stroke="#000" stroke-width="2.4"/>
<text x="61.1" y="713.6" font-size="32.60" textLength="73.3" lengthAdjust="spacingAndGlyphs">1200</text>
<text x="79.4" y="855.0" font-size="32.60" textLength="55.0" lengthAdjust="spacingAndGlyphs">900</text>
<text x="79.4" y="995.5" font-size="32.60" textLength="55.0" lengthAdjust="spacingAndGlyphs">600</text>
<text x="79.4" y="1135.9" font-size="32.60" textLength="55.0" lengthAdjust="spacingAndGlyphs">300</text>
<text x="116.1" y="1276.2" font-size="32.60" textLength="18.3" lengthAdjust="spacingAndGlyphs">0</text>
<text x="157.1" y="1322.0" font-size="32.60" textLength="18.3" lengthAdjust="spacingAndGlyphs">0</text>
<text x="268.9" y="1322.0" font-size="32.60" textLength="73.3" lengthAdjust="spacingAndGlyphs">1500</text>
<text x="407.7" y="1322.0" font-size="32.60" textLength="73.3" lengthAdjust="spacingAndGlyphs">3000</text>
<text x="547.7" y="1322.0" font-size="32.60" textLength="73.3" lengthAdjust="spacingAndGlyphs">4500</text>
<text x="686.3" y="1322.0" font-size="32.60" textLength="73.3" lengthAdjust="spacingAndGlyphs">6000</text>
<text x="824.8" y="1322.0" font-size="32.60" textLength="73.3" lengthAdjust="spacingAndGlyphs">7500</text>
<text x="964.0" y="1322.0" font-size="32.60" textLength="73.3" lengthAdjust="spacingAndGlyphs">9000</text>
<text transform="translate(36.9 985.0) rotate(-90)" x="-129.2" y="0" font-size="35.50" textLength="258.8" lengthAdjust="spacingAndGlyphs">Frictional force (N)</text>
<text x="446.9" y="1384.0" font-size="31.60" textLength="274.7" lengthAdjust="spacingAndGlyphs">Displacement(μm)</text>
<text x="19.0" y="1349.0" font-size="30.00" textLength="36.9" lengthAdjust="spacingAndGlyphs">(c)</text>
<path d="M174.5 1267.0C174.8 1247.5 175.9 1187.8 176.5 1150.0C177.1 1112.2 177.5 1075.0 178.0 1040.0C178.5 1005.0 178.8 964.5 179.5 940.0C180.2 915.5 180.9 905.7 182.0 893.0C183.1 880.3 184.7 871.2 186.0 864.0C187.3 856.8 188.1 853.6 190.0 850.0C191.9 846.4 195.0 843.5 197.5 842.5C200.0 841.5 202.5 842.9 205.0 844.0C207.5 845.1 210.0 848.4 212.5 849.0C215.0 849.6 217.1 848.2 220.0 847.5C222.9 846.8 226.7 845.6 230.0 845.0C233.3 844.4 236.7 844.5 240.0 844.0C243.3 843.5 245.8 842.7 250.0 842.0C254.2 841.3 259.6 840.4 265.0 840.0C270.4 839.6 277.5 839.7 282.5 839.5C287.5 839.3 291.2 838.8 295.0 839.0C298.8 839.2 300.8 839.6 305.0 841.0C309.2 842.4 315.4 845.3 320.0 847.5C324.6 849.7 328.3 851.9 332.5 854.0C336.7 856.1 340.4 858.0 345.0 860.0C349.6 862.0 355.0 863.7 360.0 866.0C365.0 868.3 371.2 871.7 375.0 874.0C378.8 876.3 377.9 876.7 382.5 880.0C387.1 883.3 396.7 889.4 402.5 894.0C408.3 898.6 412.5 903.3 417.5 907.5C422.5 911.7 427.1 914.6 432.5 919.0C437.9 923.4 443.8 928.8 450.0 934.0C456.2 939.2 463.8 945.2 470.0 950.0C476.2 954.8 482.5 958.2 487.5 962.5C492.5 966.8 495.4 970.6 500.0 976.0C504.6 981.4 510.0 990.0 515.0 995.0C520.0 1000.0 525.0 1001.8 530.0 1006.0C535.0 1010.2 539.6 1015.2 545.0 1020.0C550.4 1024.8 557.1 1029.8 562.5 1035.0C567.9 1040.2 572.9 1046.8 577.5 1051.0C582.1 1055.2 585.8 1057.0 590.0 1060.0C594.2 1063.0 598.3 1065.0 602.5 1069.0C606.7 1073.0 610.0 1077.6 615.0 1084.0C620.0 1090.4 626.7 1099.8 632.5 1107.5C638.3 1115.2 644.2 1122.5 650.0 1130.0C655.8 1137.5 661.7 1145.0 667.5 1152.5C673.3 1160.0 679.6 1167.9 685.0 1175.0C690.4 1182.1 695.4 1190.0 700.0 1195.0C704.6 1200.0 707.5 1201.0 712.5 1205.0C717.5 1209.0 724.6 1215.2 730.0 1219.0C735.4 1222.8 740.0 1224.3 745.0 1227.5C750.0 1230.7 755.8 1235.5 760.0 1238.0C764.2 1240.5 766.2 1241.6 770.0 1242.5C773.8 1243.4 778.3 1242.4 782.5 1243.5C786.7 1244.6 790.8 1247.4 795.0 1249.0C799.2 1250.6 802.9 1252.2 807.5 1253.0C812.1 1253.8 817.9 1253.2 822.5 1254.0C827.1 1254.8 831.2 1256.7 835.0 1258.0C838.8 1259.3 843.3 1261.3 845.0 1262.0" fill="none" stroke="#0a6eb4" stroke-width="4.20" stroke-linecap="round" stroke-linejoin="round"/>
<path d="M173.7 1267.0C174.0 1247.5 175.1 1187.8 175.7 1150.0C176.3 1112.2 176.7 1075.0 177.2 1040.0C177.7 1005.0 178.0 965.0 178.7 940.0C179.4 915.0 180.1 903.3 181.2 890.0C182.3 876.7 183.7 867.5 185.2 860.0C186.7 852.5 188.6 848.7 190.2 845.0C191.8 841.3 192.9 838.9 195.0 838.0C197.1 837.1 200.0 838.2 202.5 839.5C205.0 840.8 207.5 843.6 210.0 846.0C212.5 848.4 215.4 852.4 217.5 854.0C219.6 855.6 220.4 855.5 222.5 855.5C224.6 855.5 227.1 854.9 230.0 854.0C232.9 853.1 236.7 851.1 240.0 850.0C243.3 848.9 246.7 848.8 250.0 847.5C253.3 846.2 256.7 844.1 260.0 842.5C263.3 840.9 266.2 839.2 270.0 838.0C273.8 836.8 278.8 835.8 282.5 835.5C286.2 835.2 289.2 835.1 292.5 836.0C295.8 836.9 298.8 839.3 302.5 841.0C306.2 842.7 310.4 844.1 315.0 846.0C319.6 847.9 325.0 851.0 330.0 852.5C335.0 854.0 340.0 853.9 345.0 855.0C350.0 856.1 355.8 857.8 360.0 859.0C364.2 860.2 366.2 861.3 370.0 862.5C373.8 863.7 378.3 864.1 382.5 866.0C386.7 867.9 391.7 871.7 395.0 874.0C398.3 876.3 398.8 877.1 402.5 880.0C406.2 882.9 412.5 887.8 417.5 891.5C422.5 895.2 427.9 898.6 432.5 902.5C437.1 906.4 440.8 910.8 445.0 915.0C449.2 919.2 452.9 922.8 457.5 927.5C462.1 932.2 467.5 938.1 472.5 943.5C477.5 948.9 481.2 953.9 487.5 960.0C493.8 966.1 503.8 974.6 510.0 980.0C516.2 985.4 518.3 986.5 525.0 992.5C531.7 998.5 541.7 1008.1 550.0 1016.0C558.3 1023.9 566.7 1032.5 575.0 1040.0C583.3 1047.5 594.2 1055.6 600.0 1061.0C605.8 1066.4 605.8 1068.1 610.0 1072.5C614.2 1076.9 620.0 1082.8 625.0 1087.5C630.0 1092.2 634.6 1095.6 640.0 1101.0C645.4 1106.4 651.7 1113.5 657.5 1120.0C663.3 1126.5 667.9 1132.9 675.0 1140.0C682.1 1147.1 692.9 1156.0 700.0 1162.5C707.1 1169.0 711.7 1173.4 717.5 1179.0C723.3 1184.6 729.6 1191.5 735.0 1196.0C740.4 1200.5 745.0 1202.5 750.0 1206.0C755.0 1209.5 760.0 1213.4 765.0 1217.0C770.0 1220.6 775.4 1224.0 780.0 1227.5C784.6 1231.0 787.9 1235.0 792.5 1238.0C797.1 1241.0 802.1 1243.0 807.5 1245.5C812.9 1248.0 818.8 1250.2 825.0 1253.0C831.2 1255.8 841.7 1260.5 845.0 1262.0" fill="none" stroke="#cc0000" stroke-width="4.20" stroke-linecap="round" stroke-linejoin="round"/>
<line x1="201.0" y1="727.5" x2="201.0" y2="1265.0" stroke="#50621f" stroke-width="2.3" stroke-dasharray="17.25 8.89" stroke-dashoffset="0.0"/>
<line x1="283.2" y1="727.5" x2="283.2" y2="1265.0" stroke="#50621f" stroke-width="2.3" stroke-dasharray="17.25 8.89" stroke-dashoffset="0.0"/>
<line x1="844.8" y1="789.5" x2="844.8" y2="1276.0" stroke="#50621f" stroke-width="2.3" stroke-dasharray="17.25 8.89" stroke-dashoffset="0.0"/>
<text x="193.0" y="1033.3" font-size="30.00" textLength="150.2" lengthAdjust="spacingAndGlyphs">Completely</text>
<text x="191.5" y="1068.3" font-size="30.00" textLength="153.8" lengthAdjust="spacingAndGlyphs">overlapping</text>
<text x="241.6" y="1103.3" font-size="30.00" textLength="53.6" lengthAdjust="spacingAndGlyphs">area</text>
<text x="426.3" y="1077.2" font-size="30.00" textLength="101.0" lengthAdjust="spacingAndGlyphs">Exit the</text>
<text x="399.5" y="1112.4" font-size="30.00" textLength="153.8" lengthAdjust="spacingAndGlyphs">overlapping</text>
<text x="449.6" y="1146.9" font-size="30.00" textLength="53.6" lengthAdjust="spacingAndGlyphs">area</text>
<rect x="703.1" y="703.5" width="272.5" height="71.4" fill="#fff" stroke="#000" stroke-width="2.5"/>
<line x1="707.0" y1="722.6" x2="775.8" y2="722.6" stroke="#0a6eb4" stroke-width="3.6" stroke-linecap="round"/>
<line x1="707.0" y1="755.8" x2="775.8" y2="755.8" stroke="#cc0000" stroke-width="3.6" stroke-linecap="round"/>
<text x="781.8" y="730.5" font-size="25.60" textLength="189.7" lengthAdjust="spacingAndGlyphs">Second press fit</text>
<text x="782.6" y="764.0" font-size="25.60" textLength="155.7" lengthAdjust="spacingAndGlyphs">First press fit</text>
</g>
<g id="chart-d">
<line x1="1216.4" y1="1263.2" x2="1216.4" y2="711.0" stroke="#000" stroke-width="2.9"/>
<polygon points="1216.4,696.0 1204.0,716.8 1228.8,716.8"/>
<line x1="1215.0" y1="1261.7" x2="2038.0" y2="1261.7" stroke="#000" stroke-width="2.9"/>
<polygon points="2053.0,1261.7 2028.0,1251.3 2028.0,1272.1"/>
<line x1="1216.4" y1="740.7" x2="1246.2" y2="740.7" stroke="#000" stroke-width="2.4"/>
<line x1="1216.4" y1="871.0" x2="1246.2" y2="871.0" stroke="#000" stroke-width="2.4"/>
<line x1="1216.4" y1="1001.2" x2="1246.2" y2="1001.2" stroke="#000" stroke-width="2.4"/>
<line x1="1216.4" y1="1131.5" x2="1246.2" y2="1131.5" stroke="#000" stroke-width="2.4"/>
<line x1="1354.5" y1="1261.7" x2="1354.5" y2="1235.2" stroke="#000" stroke-width="2.4"/>
<line x1="1494.0" y1="1261.7" x2="1494.0" y2="1235.2" stroke="#000" stroke-width="2.4"/>
<line x1="1633.5" y1="1261.7" x2="1633.5" y2="1235.2" stroke="#000" stroke-width="2.4"/>
<line x1="1772.8" y1="1261.7" x2="1772.8" y2="1235.2" stroke="#000" stroke-width="2.4"/>
<line x1="1911.5" y1="1261.7" x2="1911.5" y2="1235.2" stroke="#000" stroke-width="2.4"/>
<text x="1110.1" y="749.6" font-size="32.60" textLength="73.3" lengthAdjust="spacingAndGlyphs">1200</text>
<text x="1128.4" y="879.9" font-size="32.60" textLength="55.0" lengthAdjust="spacingAndGlyphs">900</text>
<text x="1128.4" y="1010.1" font-size="32.60" textLength="55.0" lengthAdjust="spacingAndGlyphs">600</text>
<text x="1128.4" y="1140.4" font-size="32.60" textLength="55.0" lengthAdjust="spacingAndGlyphs">300</text>
<text x="1165.1" y="1270.6" font-size="32.60" textLength="18.3" lengthAdjust="spacingAndGlyphs">0</text>
<text x="1205.8" y="1317.0" font-size="32.60" textLength="18.3" lengthAdjust="spacingAndGlyphs">0</text>
<text x="1317.4" y="1317.0" font-size="32.60" textLength="73.3" lengthAdjust="spacingAndGlyphs">1500</text>
<text x="1456.7" y="1317.0" font-size="32.60" textLength="73.3" lengthAdjust="spacingAndGlyphs">3000</text>
<text x="1596.7" y="1317.0" font-size="32.60" textLength="73.3" lengthAdjust="spacingAndGlyphs">4500</text>
<text x="1735.8" y="1317.0" font-size="32.60" textLength="73.3" lengthAdjust="spacingAndGlyphs">6000</text>
<text x="1874.3" y="1317.0" font-size="32.60" textLength="73.3" lengthAdjust="spacingAndGlyphs">7500</text>
<text x="2014.0" y="1317.0" font-size="32.60" textLength="73.3" lengthAdjust="spacingAndGlyphs">9000</text>
<text transform="translate(1084.3 979.2) rotate(-90)" x="-130.8" y="0" font-size="35.50" textLength="262.0" lengthAdjust="spacingAndGlyphs">Frictional force (N)</text>
<text x="1495.4" y="1380.3" font-size="31.60" textLength="275.7" lengthAdjust="spacingAndGlyphs">Displacement(μm)</text>
<text x="1057.5" y="1367.5" font-size="30.00" textLength="39.5" lengthAdjust="spacingAndGlyphs">(d)</text>
<path d="M1222.1 1261.0C1222.6 1242.5 1224.0 1186.8 1224.9 1150.0C1225.8 1113.2 1226.7 1070.8 1227.4 1040.0C1228.1 1009.2 1228.3 985.3 1228.9 965.0C1229.5 944.7 1230.1 929.8 1230.9 918.0C1231.7 906.2 1232.7 899.3 1233.9 894.0C1235.1 888.7 1237.0 887.5 1238.0 886.0C1239.0 884.5 1238.4 884.3 1240.0 885.0C1241.6 885.7 1245.0 887.7 1247.5 890.0C1250.0 892.3 1252.5 896.7 1255.0 899.0C1257.5 901.3 1259.6 903.0 1262.5 904.0C1265.4 905.0 1268.8 905.2 1272.5 905.0C1276.2 904.8 1280.4 903.2 1285.0 902.5C1289.6 901.8 1295.4 901.6 1300.0 901.0C1304.6 900.4 1308.3 900.0 1312.5 899.0C1316.7 898.0 1320.8 896.3 1325.0 895.0C1329.2 893.7 1333.3 892.2 1337.5 891.0C1341.7 889.8 1345.8 889.2 1350.0 887.5C1354.2 885.8 1358.8 882.6 1362.5 881.0C1366.2 879.4 1369.2 879.4 1372.5 878.0C1375.8 876.6 1378.8 873.8 1382.5 872.5C1386.2 871.2 1392.1 870.4 1395.0 870.0C1397.9 869.6 1395.0 870.3 1400.0 870.0C1405.0 869.7 1416.2 868.4 1425.0 868.0C1433.8 867.6 1445.4 867.0 1452.5 867.5C1459.6 868.0 1462.5 869.1 1467.5 871.0C1472.5 872.9 1476.2 875.8 1482.5 879.0C1488.8 882.2 1497.9 886.7 1505.0 890.0C1512.1 893.3 1518.3 895.5 1525.0 899.0C1531.7 902.5 1537.5 906.0 1545.0 911.0C1552.5 916.0 1562.5 923.5 1570.0 929.0C1577.5 934.5 1583.3 938.7 1590.0 944.0C1596.7 949.3 1603.3 956.0 1610.0 961.0C1616.7 966.0 1622.9 969.7 1630.0 974.0C1637.1 978.3 1645.8 982.3 1652.5 987.0C1659.2 991.7 1664.2 997.6 1670.0 1002.0C1675.8 1006.4 1682.5 1009.9 1687.5 1013.5C1692.5 1017.1 1694.6 1020.1 1700.0 1023.5C1705.4 1026.9 1713.8 1030.4 1720.0 1034.0C1726.2 1037.6 1732.1 1041.1 1737.5 1045.0C1742.9 1048.9 1748.8 1053.8 1752.5 1057.5C1756.2 1061.2 1757.8 1062.9 1760.0 1067.5C1762.2 1072.1 1763.1 1079.6 1766.0 1085.0C1768.9 1090.4 1773.5 1093.8 1777.5 1100.0C1781.5 1106.2 1785.4 1114.2 1790.0 1122.5C1794.6 1130.8 1799.6 1140.5 1805.0 1150.0C1810.4 1159.5 1817.8 1172.8 1822.5 1179.5C1827.2 1186.2 1829.2 1186.2 1833.5 1190.5C1837.8 1194.8 1843.1 1200.8 1848.5 1205.5C1853.9 1210.2 1860.2 1214.8 1866.0 1219.0C1871.8 1223.2 1877.7 1227.2 1883.5 1230.5C1889.3 1233.8 1896.0 1236.5 1901.0 1239.0C1906.0 1241.5 1908.9 1242.5 1913.5 1245.5C1918.1 1248.5 1926.0 1255.1 1928.5 1257.0" fill="none" stroke="#0a6eb4" stroke-width="4.20" stroke-linecap="round" stroke-linejoin="round"/>
<path d="M1221.3 1261.0C1221.8 1242.5 1223.2 1186.8 1224.1 1150.0C1225.0 1113.2 1225.9 1070.8 1226.6 1040.0C1227.3 1009.2 1227.5 985.8 1228.1 965.0C1228.7 944.2 1229.3 927.5 1230.1 915.0C1230.9 902.5 1231.9 895.3 1233.1 890.0C1234.3 884.7 1235.9 884.0 1237.5 883.0C1239.1 882.0 1240.4 883.0 1242.5 884.0C1244.6 885.0 1247.5 887.7 1250.0 889.0C1252.5 890.3 1254.6 891.8 1257.5 892.0C1260.4 892.2 1264.6 890.2 1267.5 890.5C1270.4 890.8 1272.5 892.9 1275.0 894.0C1277.5 895.1 1279.6 896.9 1282.5 897.0C1285.4 897.1 1288.8 895.8 1292.5 894.5C1296.2 893.2 1300.8 890.9 1305.0 889.5C1309.2 888.1 1313.3 887.2 1317.5 886.0C1321.7 884.8 1325.8 883.7 1330.0 882.5C1334.2 881.3 1338.3 880.2 1342.5 879.0C1346.7 877.8 1349.6 876.3 1355.0 875.0C1360.4 873.7 1368.3 871.9 1375.0 871.0C1381.7 870.1 1390.8 869.7 1395.0 869.5C1399.2 869.3 1396.7 870.2 1400.0 870.0C1403.3 869.8 1410.0 868.5 1415.0 868.0C1420.0 867.5 1424.5 867.2 1430.0 867.0C1435.5 866.8 1442.2 866.4 1448.0 866.5C1453.8 866.6 1459.7 866.8 1465.0 867.5C1470.3 868.2 1475.0 869.6 1480.0 871.0C1485.0 872.4 1488.3 873.2 1495.0 876.0C1501.7 878.8 1510.8 882.0 1520.0 887.5C1529.2 893.0 1540.8 901.9 1550.0 909.0C1559.2 916.1 1566.7 922.8 1575.0 930.0C1583.3 937.2 1591.7 944.6 1600.0 952.5C1608.3 960.4 1616.7 969.4 1625.0 977.3C1633.3 985.2 1641.7 992.3 1650.0 999.8C1658.3 1007.3 1666.7 1015.2 1675.0 1022.3C1683.3 1029.4 1691.7 1036.3 1700.0 1042.3C1708.3 1048.3 1716.7 1052.7 1725.0 1058.3C1733.3 1063.9 1742.9 1070.7 1750.0 1076.0C1757.1 1081.3 1762.1 1084.8 1767.5 1090.0C1772.9 1095.2 1777.9 1100.8 1782.5 1107.5C1787.1 1114.2 1790.4 1122.5 1795.0 1130.0C1799.6 1137.5 1804.2 1144.2 1810.0 1152.5C1815.8 1160.8 1824.8 1172.8 1830.0 1179.5C1835.2 1186.2 1836.7 1188.2 1841.0 1193.0C1845.3 1197.8 1850.6 1203.2 1856.0 1208.0C1861.4 1212.8 1867.7 1217.8 1873.5 1222.0C1879.3 1226.2 1885.2 1229.1 1891.0 1233.0C1896.8 1236.9 1902.2 1241.2 1908.5 1245.5C1914.8 1249.8 1925.2 1256.8 1928.5 1259.0" fill="none" stroke="#cc0000" stroke-width="4.20" stroke-linecap="round" stroke-linejoin="round"/>
<line x1="1239.0" y1="740.0" x2="1239.0" y2="1276.0" stroke="#50621f" stroke-width="2.1" stroke-dasharray="17.25 8.89" stroke-dashoffset="0.0"/>
<line x1="1452.2" y1="740.0" x2="1452.2" y2="1276.0" stroke="#50621f" stroke-width="2.1" stroke-dasharray="17.25 8.89" stroke-dashoffset="0.0"/>
<line x1="1927.5" y1="781.0" x2="1927.5" y2="1280.5" stroke="#50621f" stroke-width="2.1" stroke-dasharray="17.25 8.89" stroke-dashoffset="0.0"/>
<text x="1269.0" y="1037.1" font-size="30.00" textLength="150.2" lengthAdjust="spacingAndGlyphs">Completely</text>
<text x="1267.5" y="1071.9" font-size="30.00" textLength="153.8" lengthAdjust="spacingAndGlyphs">overlapping</text>
<text x="1317.6" y="1106.4" font-size="30.00" textLength="53.6" lengthAdjust="spacingAndGlyphs">area</text>
<text x="1546.3" y="1081.5" font-size="30.00" textLength="101.0" lengthAdjust="spacingAndGlyphs">Exit the</text>
<text x="1519.5" y="1116.9" font-size="30.00" textLength="153.8" lengthAdjust="spacingAndGlyphs">overlapping</text>
<text x="1569.6" y="1151.3" font-size="30.00" textLength="53.6" lengthAdjust="spacingAndGlyphs">area</text>
<rect x="1752.4" y="695.0" width="272.6" height="71.6" fill="#fff" stroke="#000" stroke-width="2.5"/>
<line x1="1756.5" y1="714.3" x2="1825.3" y2="714.3" stroke="#0a6eb4" stroke-width="3.6" stroke-linecap="round"/>
<line x1="1756.5" y1="747.8" x2="1825.3" y2="747.8" stroke="#cc0000" stroke-width="3.6" stroke-linecap="round"/>
<text x="1831.5" y="722.5" font-size="25.60" textLength="189.7" lengthAdjust="spacingAndGlyphs">Second press fit</text>
<text x="1832.4" y="756.0" font-size="25.60" textLength="155.7" lengthAdjust="spacingAndGlyphs">First press fit</text>
</g>
</svg></body></html>
